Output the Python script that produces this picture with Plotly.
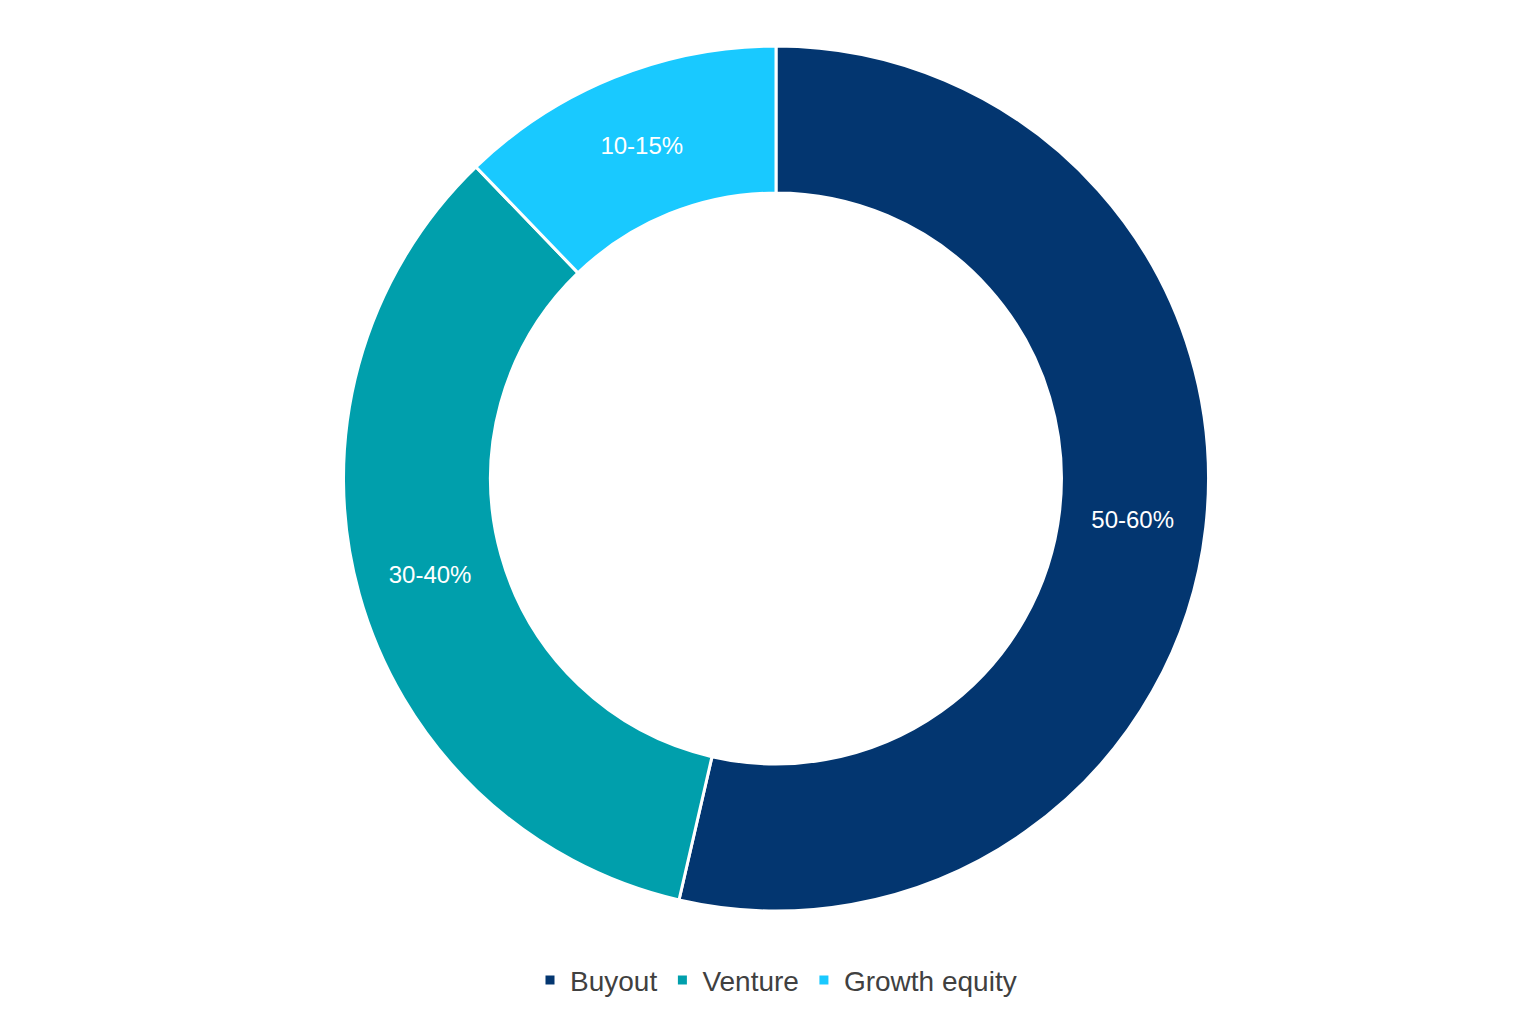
import plotly.graph_objects as go

categories = ["Buyout", "Venture", "Growth equity"]
values = [53.6, 34.2, 12.2]
label_text = ["50-60%", "30-40%", "10-15%"]
colors = ["#033670", "#009fac", "#19c9ff"]

fig = go.Figure(go.Pie(
    labels=categories, values=values, text=label_text,
    texttemplate="%{text}", textposition="inside", insidetextorientation="horizontal",
    hole=0.66, sort=False, direction="clockwise", rotation=0,
    marker=dict(colors=colors, line=dict(color="white", width=3)),
    textfont=dict(family="Liberation Sans, Arial", size=24, color="white"),
    hoverinfo="skip",
))
fig.update_layout(
    width=1536, height=1024, paper_bgcolor="white", plot_bgcolor="white",
    margin=dict(l=0, r=0, t=38, b=121),
    showlegend=True,
    legend=dict(orientation="h", x=0.5, xanchor="center", y=-0.08, yanchor="middle",
                font=dict(family="Liberation Sans, Arial", size=28, color="#404040"),
                itemwidth=30, tracegroupgap=0),
)
fig.write_html("out.html")
